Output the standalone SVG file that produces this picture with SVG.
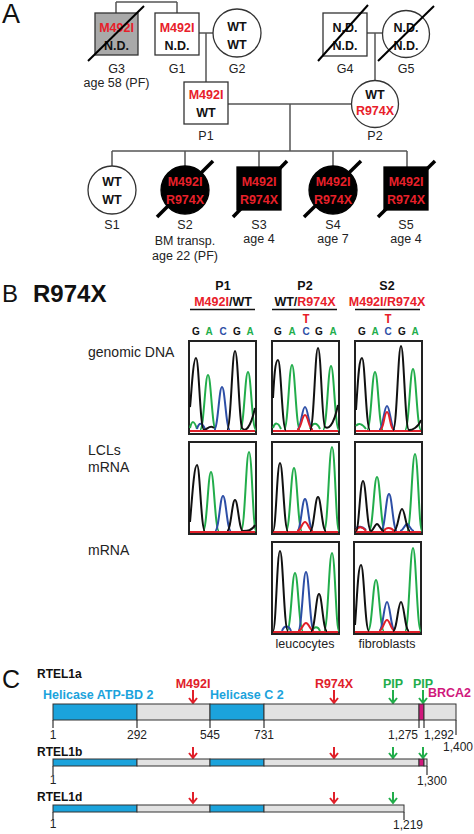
<svg xmlns="http://www.w3.org/2000/svg" width="474" height="834" viewBox="0 0 474 834">
<style>
.ln{stroke:#555;stroke-width:1.5;fill:none}
.sh{stroke:#333;stroke-width:1.3;fill:#fff}
.blk{fill:#000;stroke:#000;stroke-width:1.3}
.sl{stroke:#000;stroke-width:2;fill:none}
.sl2{stroke:#000;stroke-width:3.5;fill:none}
.g{font-family:"Liberation Sans",Arial,sans-serif;font-weight:bold;font-size:12.5px;text-anchor:middle;fill:#111}
.g.r{fill:#e8202a}
.lb{font-family:"Liberation Sans",Arial,sans-serif;font-size:12.5px;text-anchor:middle;fill:#222}
.big{font-family:"Liberation Sans",Arial,sans-serif;fill:#111}
.hd{font-family:"Liberation Sans",Arial,sans-serif;font-weight:bold;font-size:12.5px;text-anchor:middle;fill:#111}
.hd.red,.red{fill:#e8202a}
.base{font-family:"Liberation Sans",Arial,sans-serif;font-weight:bold;font-size:10px;text-anchor:middle}
.tt{font-family:"Liberation Mono","Courier New",monospace;font-weight:bold;font-size:12px;text-anchor:middle;fill:#e8202a}
.ul{stroke:#111;stroke-width:1.5}
.box{fill:#fff;stroke:#222;stroke-width:2}
.tr{fill:none;stroke-width:2;stroke-linejoin:round}
.k{stroke:#111}.gr{stroke:#22ad4b}.bl{stroke:#2d4ea6}.rd{stroke:#e0202a}
.cat{font-family:"Liberation Sans",Arial,sans-serif;font-size:14px;fill:#222}
.num{font-family:"Liberation Sans",Arial,sans-serif;font-size:12px;fill:#222}
.iso{font-family:"Liberation Sans",Arial,sans-serif;font-weight:bold;font-size:12px;fill:#111}
.dom{font-family:"Liberation Sans",Arial,sans-serif;font-weight:bold;font-size:12.5px;fill:#1ba3dc}
.mut{font-family:"Liberation Sans",Arial,sans-serif;font-weight:bold;font-size:12.5px;text-anchor:middle}
.hel{fill:#1ba3dc;stroke:#333;stroke-width:1}
.gry{fill:#e2e2e2;stroke:#333;stroke-width:1}
.mag{fill:#d0187c;stroke:#333;stroke-width:1}
.tk{stroke:#333;stroke-width:1.2}
.ar{fill:none;stroke-width:2}
.ared{stroke:#e0202a}.agrn{stroke:#22ad4b}
</style>

<!-- Part A pedigree -->
<text class="big" x="2" y="23" font-size="27">A</text>
<g id="connectors">
<path class="ln" d="M116,2 H177 M116,2 V13 M177,2 V13"/>
<path class="ln" d="M199,33 H214 M206,33 V82"/>
<path class="ln" d="M367,33 H383 M375,33 V81"/>
<path class="ln" d="M228,104 H352 M290,104 V151"/>
<path class="ln" d="M112,151 H407 M112,151 V166 M185,151 V166 M259,151 V167 M333,151 V166 M407,151 V167"/>
</g>
<g id="G3">
<rect x="95" y="13" width="43" height="42" fill="#a9a9a9" stroke="#333" stroke-width="1.3"/>
<text class="g r" x="116.5" y="31.5">M492I</text>
<text class="g" x="116.5" y="49.5">N.D.</text>
<line class="sl" x1="88" y1="61" x2="144" y2="6"/>
<text class="lb" x="116.5" y="72.5">G3</text>
<text class="lb" x="116.5" y="87">age 58 (PF)</text>
</g>
<g id="G1">
<rect class="sh" x="155" y="13" width="44" height="42"/>
<text class="g r" x="177" y="31.5">M492I</text>
<text class="g" x="177" y="49.5">N.D.</text>
<text class="lb" x="177" y="72.5">G1</text>
</g>
<g id="G2">
<circle class="sh" cx="237" cy="33" r="24"/>
<text class="g" x="237" y="31">WT</text>
<text class="g" x="237" y="49">WT</text>
<text class="lb" x="237" y="72.5">G2</text>
</g>
<g id="G4">
<rect class="sh" x="323" y="13" width="44" height="43"/>
<text class="g" x="345" y="31.5">N.D.</text>
<text class="g" x="345" y="49.5">N.D.</text>
<line class="sl" x1="318" y1="61" x2="368" y2="5"/>
<text class="lb" x="345" y="72.5">G4</text>
</g>
<g id="G5">
<circle class="sh" cx="406" cy="34" r="23.5"/>
<text class="g" x="406" y="31.5">N.D.</text>
<text class="g" x="406" y="49.5">N.D.</text>
<line class="sl" x1="378" y1="61" x2="434" y2="6"/>
<text class="lb" x="406" y="72.5">G5</text>
</g>
<g id="P1">
<rect class="sh" x="184" y="82" width="44" height="42"/>
<text class="g r" x="206" y="99">M492I</text>
<text class="g" x="206" y="116.5">WT</text>
<text class="lb" x="206" y="140">P1</text>
</g>
<g id="P2">
<circle class="sh" cx="375" cy="104" r="23.5"/>
<text class="g" x="375" y="98.5">WT</text>
<text class="g r" x="375" y="115">R974X</text>
<text class="lb" x="375" y="140">P2</text>
</g>
<g id="S1">
<circle class="sh" cx="112" cy="190" r="24"/>
<text class="g" x="112" y="186">WT</text>
<text class="g" x="112" y="203.5">WT</text>
<text class="lb" x="112" y="228.5">S1</text>
</g>
<g id="S2">
<circle class="blk" cx="185" cy="190" r="24"/>
<line class="sl2" x1="157" y1="217" x2="213" y2="161"/>
<text class="g r" x="185" y="186">M492I</text>
<text class="g r" x="185" y="203.5">R974X</text>
<text class="lb" x="185" y="228.5">S2</text>
<text class="lb" x="185" y="245">BM transp.</text>
<text class="lb" x="185" y="259.5">age 22 (PF)</text>
</g>
<g id="S3">
<rect class="blk" x="237" y="167" width="44" height="43"/>
<line class="sl2" x1="233" y1="217" x2="287" y2="161"/>
<text class="g r" x="259" y="186">M492I</text>
<text class="g r" x="259" y="203.5">R974X</text>
<text class="lb" x="259" y="228.5">S3</text>
<text class="lb" x="259" y="243">age 4</text>
</g>
<g id="S4">
<circle class="blk" cx="333" cy="190" r="24"/>
<line class="sl2" x1="304" y1="217" x2="361" y2="161"/>
<text class="g r" x="333" y="186">M492I</text>
<text class="g r" x="333" y="203.5">R974X</text>
<text class="lb" x="333" y="228.5">S4</text>
<text class="lb" x="333" y="243">age 7</text>
</g>
<g id="S5">
<rect class="blk" x="384" y="167" width="44" height="43"/>
<line class="sl2" x1="378" y1="217" x2="435" y2="161"/>
<text class="g r" x="406" y="186">M492I</text>
<text class="g r" x="406" y="203.5">R974X</text>
<text class="lb" x="406" y="228.5">S5</text>
<text class="lb" x="406" y="243">age 4</text>
</g>

<!-- Part B -->
<g id="partB">
<text class="big" x="2" y="302" font-size="24">B</text>
<text class="big" x="33" y="302" font-size="24" font-weight="bold">R974X</text>
<text class="hd" x="223" y="289.5">P1</text>
<text class="hd" x="223" y="305.5"><tspan class="red">M492I</tspan>/WT</text>
<line class="ul" x1="190" y1="309.5" x2="255" y2="309.5"/>
<text class="hd" x="305" y="289.5">P2</text>
<text class="hd" x="305" y="305.5">WT/<tspan class="red">R974X</tspan></text>
<line class="ul" x1="272" y1="309.5" x2="337" y2="309.5"/>
<text class="hd" x="387" y="289.5">S2</text>
<text class="hd red" x="387" y="305.5">M492I/R974X</text>
<line class="ul" x1="355" y1="309.5" x2="420" y2="309.5"/>
<text class="tt" x="306" y="323">T</text>
<text class="tt" x="388" y="323">T</text>
<g class="base">
<text x="196" y="335" fill="#111">G</text><text x="209" y="335" fill="#22ad4b">A</text><text x="223" y="335" fill="#2d4ea6">C</text><text x="237" y="335" fill="#111">G</text><text x="250" y="335" fill="#22ad4b">A</text>
<text x="278" y="335" fill="#111">G</text><text x="292" y="335" fill="#22ad4b">A</text><text x="306" y="335" fill="#2d4ea6">C</text><text x="319" y="335" fill="#111">G</text><text x="333" y="335" fill="#22ad4b">A</text>
<text x="362" y="335" fill="#111">G</text><text x="375" y="335" fill="#22ad4b">A</text><text x="388" y="335" fill="#2d4ea6">C</text><text x="402" y="335" fill="#111">G</text><text x="415" y="335" fill="#22ad4b">A</text>
</g>
<text class="cat" x="88" y="357">genomic DNA</text>
<text class="cat" x="88" y="455">LCLs</text>
<text class="cat" x="88" y="472">mRNA</text>
<text class="cat" x="88" y="555">mRNA</text>
<text class="lb" x="305" y="648">leucocytes</text>
<text class="lb" x="387" y="648">fibroblasts</text>

<!-- row 1 -->
<rect class="box" x="189" y="341" width="67" height="93"/>
<path class="tr gr" d="M200,430 C204,430 205,375 208,375 C211,375 212,430 216,430 M240,430 C244,430 245,372 248,372 C251,372 252,430 256,430 M190,428 C192,420 194,420 197,429"/>
<path class="tr bl" d="M214,430 C218,430 219,387 222,387 C225,387 226,430 230,430 M197,429 C199,422 202,422 205,429"/>
<path class="tr k" d="M190,407 C191,400 193,358 196,358 C199,358 200,430 204,430 C207,430 210,424 214,428 M227,430 C231,430 232,351 235,351 C238,351 239,420 242,428 C245,432 250,430 255,408"/>
<path class="tr rd" d="M190,431 H255"/>

<rect class="box" x="272" y="341" width="67" height="93"/>
<path class="tr gr" d="M284,430 C288,430 289,365 292,365 C295,365 296,430 300,430 M323,430 C327,430 328,366 331,366 C334,366 335,430 339,430 M273,428 C275,422 278,422 281,429 M310,429 C313,422 317,422 320,429"/>
<path class="tr bl" d="M297,430 C301,430 302,407 305,407 C308,407 309,430 313,430"/>
<path class="tr rd" d="M297,430 C301,430 302,415 305,415 C308,415 309,430 313,430 M273,431 H338"/>
<path class="tr k" d="M273,398 C274,380 275,360 278,360 C281,360 282,430 286,430 M310,430 C314,430 315,348 318,348 C321,348 322,425 325,427 C328,429 333,428 338,405"/>

<rect class="box" x="355" y="341" width="67" height="93"/>
<path class="tr gr" d="M367,430 C371,430 372,372 375,372 C378,372 379,430 383,430 M405,430 C409,430 410,369 413,369 C416,369 417,430 421,430 M356,426 C358,423 362,423 366,429"/>
<path class="tr bl" d="M379,430 C383,430 384,406 387,406 C390,406 391,430 395,430"/>
<path class="tr rd" d="M380,430 C384,430 384,412 387,412 C390,412 390,430 394,430 M356,431 H421"/>
<path class="tr k" d="M356,410 C358,380 359,358 362,358 C365,358 366,430 370,430 M393,430 C397,430 398,346 401,346 C404,346 405,430 409,430 C412,430 418,428 421,420"/>

<!-- row 2 -->
<rect class="box" x="189" y="442" width="67" height="92"/>
<path class="tr gr" d="M203,531 C207,531 208,472 211,472 C214,472 215,531 219,531 M241,531 C245,531 246,452 249,452 C252,452 253,531 256,531"/>
<path class="tr bl" d="M215,531 C219,531 220,496 223,496 C226,496 227,531 231,531"/>
<path class="tr k" d="M190,522 C192,500 194,465 197,465 C200,465 201,531 205,531 M227,531 C231,531 232,500 235,500 C238,500 239,531 243,531 C247,531 252,531 255,525"/>
<path class="tr rd" d="M190,532 H255"/>

<rect class="box" x="272" y="442" width="67" height="92"/>
<path class="tr gr" d="M286,531 C290,531 291,468 294,468 C297,468 298,531 302,531 M324,531 C328,531 329,447 332,447 C335,447 336,531 339,531"/>
<path class="tr bl" d="M297,531 C301,531 302,499 305,499 C308,499 309,531 313,531"/>
<path class="tr rd" d="M297,531 C301,531 302,522 305,522 C308,522 309,531 313,531 M273,532 H338"/>
<path class="tr k" d="M273,531 C276,531 277,463 280,463 C283,463 284,531 288,531 M310,531 C314,531 315,497 318,497 C321,497 322,531 326,531"/>

<rect class="box" x="355" y="442" width="67" height="92"/>
<path class="tr gr" d="M369,531 C373,531 374,477 377,477 C380,477 381,531 385,531 M407,531 C411,531 412,454 415,454 C418,454 419,531 422,531"/>
<path class="tr bl" d="M381,531 C385,531 386,494 389,494 C392,494 393,531 397,531 M400,531 C403,531 405,524 407,524 C409,524 411,531 414,531 M356,528 C358,526 362,526 366,530"/>
<path class="tr rd" d="M356,531 C358,526 362,526 366,531 M384,531 C386,527 391,527 394,531 M356,532 H421"/>
<path class="tr k" d="M356,531 C359,531 360,481 363,481 C366,481 367,531 371,531 C373,531 375,524 377,524 C379,524 381,531 384,531 M394,531 C398,531 399,509 402,509 C405,509 406,531 410,531"/>

<!-- row 3 -->
<rect class="box" x="272" y="542" width="67" height="92"/>
<path class="tr gr" d="M287,631 C291,631 292,573 295,573 C298,573 299,631 303,631 M324,631 C328,631 329,553 332,553 C335,553 336,631 339,631 M312,631 C314,626 318,626 320,631"/>
<path class="tr bl" d="M298,631 C302,631 303,572 306,572 C309,572 310,631 314,631 M282,631 C284,625 289,625 291,631"/>
<path class="tr rd" d="M298,631 C302,631 303,623 306,623 C309,623 310,631 314,631 M273,632 H338"/>
<path class="tr k" d="M273,631 C276,631 277,551 280,551 C283,551 284,631 288,631 M311,631 C315,631 316,594 319,594 C322,594 323,631 327,631"/>

<rect class="box" x="354" y="542" width="67" height="92"/>
<path class="tr gr" d="M368,631 C372,631 373,580 376,580 C379,580 380,631 384,631 M405,631 C409,631 410,548 413,548 C416,548 417,631 421,631"/>
<path class="tr bl" d="M379,631 C383,631 384,602 387,602 C390,602 391,631 395,631"/>
<path class="tr rd" d="M379,631 C383,631 384,620 387,620 C390,620 391,631 395,631 M355,632 H420"/>
<path class="tr k" d="M355,625 C357,600 358,565 361,565 C364,565 365,631 369,631 M393,631 C397,631 398,602 401,602 C404,602 405,631 409,631"/>
</g>

<!-- Part C -->
<g id="partC">
<text class="big" x="2" y="688" font-size="25">C</text>
<text class="iso" x="37" y="678">RTEL1a</text>
<text class="dom" x="43" y="699">Helicase ATP-BD 2</text>
<text class="dom" x="210" y="699">Helicase C 2</text>
<text class="mut" x="193" y="688" fill="#e0202a">M492I</text>
<text class="mut" x="334" y="688" fill="#e0202a">R974X</text>
<text class="mut" x="393" y="688" fill="#22ad4b">PIP</text>
<text class="mut" x="423" y="688" fill="#22ad4b">PIP</text>
<text x="428" y="697" font-family="Liberation Sans,Arial,sans-serif" font-weight="bold" font-size="12.5" fill="#d0187c">BRCA2</text>
<path class="ar ared" d="M193,690 V703 M189,698 L193,703 L197,698 M334,690 V703 M330,698 L334,703 L338,698"/>
<path class="ar agrn" d="M393,690 V703 M389,698 L393,703 L397,698 M423,690 V703 M419,698 L423,703 L427,698"/>
<rect class="hel" x="53" y="704" width="84" height="16"/>
<rect class="gry" x="137" y="704" width="73" height="16"/>
<rect class="hel" x="210" y="704" width="54" height="16"/>
<rect class="gry" x="264" y="704" width="155" height="16"/>
<rect class="mag" x="419" y="704" width="5" height="16"/>
<rect class="gry" x="424" y="704" width="32" height="16"/>
<path class="tk" d="M53,720 V728 M137,720 V728 M210,720 V728 M264,720 V728 M419,720 V728 M424,720 V728 M456,720 V735"/>
<text class="num" x="53" y="739" text-anchor="middle">1</text>
<text class="num" x="137" y="739" text-anchor="middle">292</text>
<text class="num" x="210" y="739" text-anchor="middle">545</text>
<text class="num" x="264" y="739" text-anchor="middle">731</text>
<text class="num" x="418" y="739" text-anchor="end">1,275</text>
<text class="num" x="424" y="739">1,292</text>
<text class="num" x="443" y="751">1,400</text>

<text class="iso" x="37" y="756">RTEL1b</text>
<path class="ar ared" d="M193,747 V758 M189,753 L193,758 L197,753 M334,747 V758 M330,753 L334,758 L338,753"/>
<path class="ar agrn" d="M393,747 V758 M389,753 L393,758 L397,753 M423,747 V758 M419,753 L423,758 L427,753"/>
<rect class="hel" x="53" y="759" width="84" height="7"/>
<rect class="gry" x="137" y="759" width="73" height="7"/>
<rect class="hel" x="210" y="759" width="54" height="7"/>
<rect class="gry" x="264" y="759" width="155" height="7"/>
<rect class="mag" x="419" y="759" width="5" height="7"/>
<rect class="gry" x="424" y="759" width="3" height="7"/>
<path class="tk" d="M53,766 V775 M427,766 V775"/>
<text class="num" x="53" y="784" text-anchor="middle">1</text>
<text class="num" x="432" y="785" text-anchor="middle">1,300</text>

<text class="iso" x="37" y="801">RTEL1d</text>
<path class="ar ared" d="M193,792 V803 M189,798 L193,803 L197,798 M334,792 V803 M330,798 L334,803 L338,798"/>
<path class="ar agrn" d="M393,792 V803 M389,798 L393,803 L397,798"/>
<rect class="hel" x="53" y="805" width="84" height="7"/>
<rect class="gry" x="137" y="805" width="73" height="7"/>
<rect class="hel" x="210" y="805" width="54" height="7"/>
<rect class="gry" x="264" y="805" width="140" height="7"/>
<path class="tk" d="M53,812 V820 M404,812 V820"/>
<text class="num" x="53" y="828" text-anchor="middle">1</text>
<text class="num" x="408" y="829" text-anchor="middle">1,219</text>
</g>
</svg>
